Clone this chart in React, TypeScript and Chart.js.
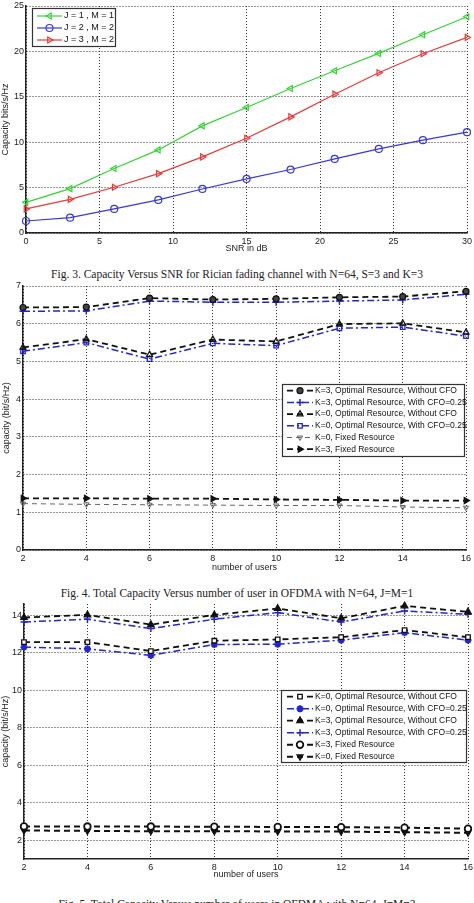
import React, { useEffect, useRef } from 'react';
import { Chart, registerables } from 'chart.js';
import { drawPoint } from 'chart.js/helpers';

Chart.register(...registerables);

// ---------- Fig. 3 data ----------
const snrDb = [0, 3, 6, 9, 12, 15, 18, 21, 24, 27, 30];
const capJ1M1 = [3.38, 4.89, 7.1, 9.15, 11.8, 13.82, 15.92, 17.87, 19.78, 21.84, 23.82];
const capJ2M2 = [1.32, 1.69, 2.65, 3.64, 4.85, 5.96, 6.99, 8.16, 9.26, 10.22, 11.1];
const capJ3M2 = [2.65, 3.71, 5.04, 6.54, 8.38, 10.44, 12.79, 15.29, 17.65, 19.74, 21.54];
const fig3XTicks = [0, 5, 10, 15, 20, 25, 30];
const fig3YTicks = [0, 5, 10, 15, 20, 25];
const fig3Labels = ['J = 1 , M = 1', 'J = 2 , M = 2', 'J = 3 , M = 2'];

// ---------- Fig. 4 data ----------
const users = [2, 4, 6, 8, 10, 12, 14, 16];
const f4K3Opt = [6.43, 6.44, 6.68, 6.64, 6.66, 6.7, 6.72, 6.86];
const f4K3OptCfo = [6.33, 6.34, 6.6, 6.57, 6.57, 6.6, 6.63, 6.78];
const f4K0Opt = [5.37, 5.59, 5.18, 5.58, 5.53, 5.99, 6.01, 5.77];
const f4K0OptCfo = [5.27, 5.5, 5.06, 5.48, 5.42, 5.88, 5.91, 5.67];
const f4K0Fixed = [1.23, 1.21, 1.2, 1.19, 1.18, 1.18, 1.14, 1.12];
const f4K3Fixed = [1.37, 1.37, 1.36, 1.36, 1.34, 1.33, 1.31, 1.31];
const fig4YTicks = [0, 1, 2, 3, 4, 5, 6, 7];
const fig4Labels = [
  'K=3, Optimal Resource, Without CFO',
  'K=3, Optimal Resource, With CFO=0.25',
  'K=0, Optimal Resource, Without CFO',
  'K=0, Optimal Resource, With CFO=0.25',
  'K=0, Fixed Resource',
  'K=3, Fixed Resource',
];

// ---------- Fig. 5 data ----------
const f5K0Opt = [12.57, 12.57, 12.09, 12.64, 12.71, 12.83, 13.21, 12.83];
const f5K0OptCfo = [12.3, 12.21, 11.86, 12.44, 12.46, 12.67, 13.07, 12.67];
const f5K3Opt = [13.88, 14.02, 13.5, 14.02, 14.36, 13.84, 14.5, 14.18];
const f5K3OptCfo = [13.64, 13.79, 13.29, 13.79, 14.14, 13.64, 14.23, 14.05];
const f5K3Fixed = [2.74, 2.73, 2.73, 2.72, 2.71, 2.7, 2.67, 2.62];
const f5K0Fixed = [2.52, 2.5, 2.48, 2.48, 2.47, 2.46, 2.43, 2.4];
const fig5YTicks = [2, 4, 6, 8, 10, 12, 14];
const fig5Labels = [
  'K=0, Optimal Resource, Without CFO',
  'K=0, Optimal Resource, With CFO=0.25',
  'K=3, Optimal Resource, Without CFO',
  'K=3, Optimal Resource, With CFO=0.25',
  'K=3, Fixed Resource',
  'K=0, Fixed Resource',
];
const userTicks = [2, 4, 6, 8, 10, 12, 14, 16];

const captions = [
  'Fig. 3. Capacity Versus SNR for Rician fading channel with N=64, S=3 and K=3',
  'Fig. 4. Total Capacity Versus number of user in OFDMA with N=64, J=M=1',
  'Fig. 5. Total Capacity Versus number of users in OFDMA with N=64, J=M=2',
];

// ---------- helpers ----------
const SANS = '"Liberation Sans", Arial, sans-serif';
const BLACK = '#111';
const BLUE = '#2323d8';
const DASH = [6, 4];
const DASHDOT = [7, 3, 2, 3];

const toPts = (xs: number[], ys: number[]) => xs.map((x, i) => ({ x, y: ys[i] }));

function series(label: string, xs: number[], ys: number[], s: any) {
  return {
    label,
    data: toPts(xs, ys),
    borderColor: s.color,
    borderWidth: s.width ?? 1.5,
    borderDash: s.dash ?? [],
    pointStyle: s.marker,
    pointRotation: s.rot ?? 0,
    pointRadius: s.r ?? 3,
    pointBorderWidth: s.mw ?? 1.2,
    pointBorderColor: s.color,
    pointBackgroundColor: s.fill ?? 'rgba(0,0,0,0)',
    tension: 0,
    fill: false,
    clip: false,
  };
}

const matlabLegend = {
  id: 'matlabLegend',
  afterDatasetsDraw(chart: any, _args: any, opts: any) {
    if (!opts || !opts.box) return;
    const ctx = chart.ctx as CanvasRenderingContext2D;
    const { x, y, w, h } = opts.box;
    ctx.save();
    ctx.fillStyle = '#fff';
    ctx.fillRect(x, y, w, h);
    ctx.strokeStyle = '#333';
    ctx.lineWidth = 1.2;
    ctx.strokeRect(x + 0.5, y + 0.5, w, h);
    chart.data.datasets.forEach((ds: any, i: number) => {
      const cy = opts.firstRow + i * opts.rowGap;
      ctx.save();
      ctx.strokeStyle = ds.borderColor;
      ctx.lineWidth = ds.borderWidth;
      ctx.setLineDash(ds.borderDash || []);
      ctx.beginPath();
      ctx.moveTo(opts.lineX0, cy);
      ctx.lineTo(opts.lineX1, cy);
      ctx.stroke();
      ctx.setLineDash([]);
      ctx.fillStyle = ds.pointBackgroundColor;
      ctx.strokeStyle = ds.pointBorderColor;
      ctx.lineWidth = ds.pointBorderWidth;
      drawPoint(
        ctx,
        { pointStyle: ds.pointStyle, rotation: ds.pointRotation || 0, radius: ds.pointRadius, borderWidth: ds.pointBorderWidth },
        (opts.lineX0 + opts.lineX1) / 2,
        cy
      );
      ctx.restore();
      ctx.fillStyle = '#111';
      ctx.font = opts.font;
      ctx.textBaseline = 'middle';
      ctx.textAlign = 'left';
      ctx.fillText(ds.label, opts.textX, cy);
    });
    ctx.restore();
  },
};

function xAxis(ticks: number[], min: number, max: number, title: string, height: number, titlePad: number) {
  return {
    type: 'linear',
    min,
    max,
    afterBuildTicks: (s: any) => {
      s.ticks = ticks.map((v) => ({ value: v }));
    },
    afterFit: (s: any) => {
      s.height = height;
      s.paddingLeft = 0;
      s.paddingRight = 0;
    },
    grid: { color: 'rgba(0,0,0,0.8)', lineWidth: 1, drawTicks: false },
    border: { display: true, color: '#222', width: 1.5, dash: [1, 2] },
    ticks: { padding: 3, color: '#222', autoSkip: false, maxRotation: 0, font: { family: SANS, size: 9 } },
    title: { display: true, text: title, color: '#222', font: { family: SANS, size: 9 }, padding: { top: 0, bottom: titlePad } },
  };
}

function yAxis(ticks: number[], min: number, max: number, title: string, width: number, titlePad: number) {
  return {
    type: 'linear',
    min,
    max,
    afterBuildTicks: (s: any) => {
      s.ticks = ticks.map((v) => ({ value: v }));
    },
    afterFit: (s: any) => {
      s.width = width;
      s.paddingTop = 0;
      s.paddingBottom = 0;
    },
    grid: { color: 'rgba(0,0,0,0.8)', lineWidth: 1, drawTicks: false },
    border: { display: true, color: '#222', width: 1.5, dash: [1, 2] },
    ticks: { padding: 2, color: '#222', autoSkip: false, font: { family: SANS, size: 9 } },
    title: { display: true, text: title, color: '#222', font: { family: SANS, size: 9 }, padding: { top: titlePad, bottom: 0 } },
  };
}

function baseOptions(scales: any, padding: any, legend: any) {
  return {
    responsive: false,
    animation: false,
    events: [],
    layout: { padding },
    scales,
    plugins: { legend: { display: false }, tooltip: { enabled: false }, matlabLegend: legend },
  };
}

// ---------- configs ----------
const fig3Config = () => ({
  type: 'line',
  data: {
    datasets: [
      series(fig3Labels[0], snrDb, capJ1M1, { color: '#35d435', marker: 'triangle', rot: -90, r: 3.5, width: 1.2 }),
      series(fig3Labels[1], snrDb, capJ2M2, { color: '#3838e0', marker: 'circle', r: 3.5, width: 1.2 }),
      series(fig3Labels[2], snrDb, capJ3M2, { color: '#e83a3a', marker: 'triangle', rot: 90, r: 3.5, width: 1.2 }),
    ],
  },
  options: baseOptions(
    { x: xAxis(fig3XTicks, 0, 30, 'SNR in dB', 29, 8), y: yAxis(fig3YTicks, 0, 25, 'Capacity bits/s/Hz', 26, 0) },
    { top: 6, right: 7, left: 0, bottom: 0 },
    { box: { x: 32, y: 8, w: 83, h: 38 }, firstRow: 16, rowGap: 12, lineX0: 37, lineX1: 62, textX: 64, font: `9px ${SANS}` }
  ),
  plugins: [matlabLegend],
});

const fig4Config = () => ({
  type: 'line',
  data: {
    datasets: [
      series(fig4Labels[0], users, f4K3Opt, { color: BLACK, dash: DASH, marker: 'circle', r: 3, width: 1.8, fill: '#444' }),
      series(fig4Labels[1], users, f4K3OptCfo, { color: BLUE, dash: DASHDOT, marker: 'cross', r: 3.5, width: 1.5, mw: 1.5 }),
      series(fig4Labels[2], users, f4K0Opt, { color: BLACK, dash: DASH, marker: 'triangle', r: 3.5, width: 1.8 }),
      series(fig4Labels[3], users, f4K0OptCfo, { color: BLUE, dash: DASHDOT, marker: 'rect', r: 3.2, width: 1.5, mw: 1.3 }),
      series(fig4Labels[4], users, f4K0Fixed, { color: '#666', dash: [5, 4], marker: 'triangle', rot: 180, r: 3, width: 1, mw: 1 }),
      series(fig4Labels[5], users, f4K3Fixed, { color: BLACK, dash: DASH, marker: 'triangle', rot: 90, r: 3.5, width: 1.8, fill: BLACK }),
    ],
  },
  options: baseOptions(
    { x: xAxis(userTicks, 2, 16, 'number of users', 25, 2), y: yAxis(fig4YTicks, 0, 7, 'capacity (bit/s/Hz)', 23, 1.5) },
    { top: 6, right: 8, left: 0, bottom: 0 },
    { box: { x: 282, y: 104, w: 182, h: 72 }, firstRow: 110.7, rowGap: 11.7, lineX0: 287, lineX1: 313, textX: 315, font: `8.5px ${SANS}` }
  ),
  plugins: [matlabLegend],
});

const fig5Config = () => ({
  type: 'line',
  data: {
    datasets: [
      series(fig5Labels[0], users, f5K0Opt, { color: BLACK, dash: DASH, marker: 'rect', r: 3.2, width: 1.8, fill: '#fff', mw: 1.3 }),
      series(fig5Labels[1], users, f5K0OptCfo, { color: BLUE, dash: DASHDOT, marker: 'star', r: 3.5, width: 1.5, mw: 2 }),
      series(fig5Labels[2], users, f5K3Opt, { color: BLACK, dash: DASH, marker: 'triangle', r: 3.8, width: 1.8, fill: BLACK }),
      series(fig5Labels[3], users, f5K3OptCfo, { color: BLUE, dash: DASHDOT, marker: 'cross', r: 3.5, width: 1.5, mw: 1.5 }),
      series(fig5Labels[4], users, f5K3Fixed, { color: BLACK, dash: DASH, marker: 'circle', r: 3.3, width: 2, fill: '#fff', mw: 1.8 }),
      series(fig5Labels[5], users, f5K0Fixed, { color: BLACK, dash: DASH, marker: 'triangle', rot: 180, r: 3.5, width: 2, fill: BLACK }),
    ],
  },
  options: baseOptions(
    { x: xAxis(userTicks, 2, 16, 'number of users', 24, 2.6), y: yAxis(fig5YTicks, 1, 14.6, 'capacity (bit/s/Hz)', 24, 0) },
    { top: 5, right: 4, left: 0, bottom: 0 },
    { box: { x: 281, y: 92, w: 185, h: 72 }, firstRow: 98.7, rowGap: 12, lineX0: 287, lineX1: 313, textX: 315, font: `8.5px ${SANS}` }
  ),
  plugins: [matlabLegend],
});

function ChartBox({ left, top, width, height, makeConfig }: any) {
  const ref = useRef<HTMLCanvasElement>(null);
  useEffect(() => {
    const chart = new Chart(ref.current as HTMLCanvasElement, makeConfig());
    return () => chart.destroy();
  }, []);
  return <canvas ref={ref} width={width} height={height} style={{ position: 'absolute', left, top, width, height }} />;
}

function Caption({ text, center }: { text: string; center: number }) {
  return (
    <div
      style={{
        position: 'absolute',
        left: 0,
        width: 474,
        top: center - 7,
        height: 14,
        lineHeight: '14px',
        textAlign: 'center',
        fontFamily: '"Liberation Serif", "Times New Roman", serif',
        fontSize: 11.5,
        color: '#222',
        whiteSpace: 'nowrap',
      }}
    >
      {text}
    </div>
  );
}

export default function App() {
  return (
    <div style={{ position: 'absolute', left: 0, top: 0, width: 474, height: 903, background: '#fff', overflow: 'hidden' }}>
      <ChartBox left={0} top={0} width={474} height={262} makeConfig={fig3Config} />
      <Caption text={captions[0]} center={274} />
      <ChartBox left={0} top={280} width={474} height={295} makeConfig={fig4Config} />
      <Caption text={captions[1]} center={593} />
      <ChartBox left={0} top={598} width={474} height={285} makeConfig={fig5Config} />
      <Caption text={captions[2]} center={904} />
    </div>
  );
}
